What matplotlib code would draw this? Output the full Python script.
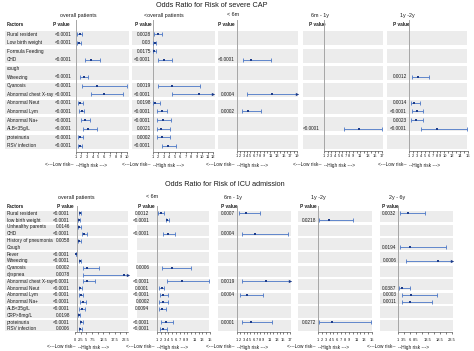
import numpy as np
import matplotlib
matplotlib.use("Agg")
import matplotlib.pyplot as plt
from matplotlib.patches import Rectangle

plt.rcParams['font.family'] = ['Liberation Sans', 'DejaVu Sans']

# ------------------------------------------------------------------
# DATA : Odds Ratio for Risk of severe CAP
# ------------------------------------------------------------------
cap_title = "Odds Ratio for Risk of severe CAP"
cap_factors = ["Rural resident", "Low birth weight", "Formula Feeding", "CHD", "cough",
               "Wheezing", "Cyanosis", "Abnormal chest X-ray", "Abnormal Neut",
               "Abnormal Lym", "Abnormal Na+", "ALB<35g/L", "proteinuria", "RSV infection"]
cap_groups = ["overall patients", "<overall patients", "< 6m", "6m - 1y", "1y -2y"]

cap_all_rows = ["Rural resident", "Low birth weight", "CHD", "Wheezing", "Cyanosis",
                "Abnormal chest X-ray", "Abnormal Neut", "Abnormal Lym", "Abnormal Na+",
                "ALB<35g/L", "proteinuria", "RSV infection"]
cap_all_or = [1.8, 1.6, 3.7, 2.4, 4.7, 6.0, 1.8, 2.1, 2.7, 3.2, 1.8, 1.7]
cap_all_lo = [1.3, 1.3, 2.7, 1.8, 2.1, 3.7, 1.4, 1.6, 1.9, 2.3, 1.4, 1.4]
cap_all_hi = [2.2, 2.0, 5.2, 3.1, 9.95, 9.3, 2.3, 2.5, 3.5, 4.7, 2.3, 2.1]
cap_all_p = ["<0.0001"] * 12

cap_sub_rows = ["Rural resident", "Low birth weight", "Formula Feeding", "CHD", "Cyanosis",
                "Abnormal chest X-ray", "Abnormal Neut", "Abnormal Lym", "Abnormal Na+",
                "ALB<35g/L", "proteinuria", "RSV infection"]
cap_sub_or = [2.05, 1.4, 1.3, 3.1, 4.5, 9.5, 1.5, 2.7, 2.85, 2.55, 2.7, 3.9]
cap_sub_lo = [1.3, 1.15, 1.05, 2.05, 2.05, 4.5, 1.05, 1.9, 1.9, 1.75, 1.9, 2.7]
cap_sub_hi = [2.7, 1.7, 1.55, 4.5, 9.6, 14.0, 2.3, 3.6, 4.3, 4.1, 4.2, 5.3]
cap_sub_p = ["0.0028", "0.03", "0.0175", "<0.0001", "0.0019", "<0.0001", "0.0198",
             "<0.0001", "<0.0001", "0.0021", "0.0002", "<0.0001"]

cap_6m_rows = ["CHD", "Abnormal chest X-ray", "Abnormal Lym"]
cap_6m_or = [5.1, 11.4, 4.4]
cap_6m_lo = [2.7, 3.9, 2.6]
cap_6m_hi = [11.1, 22.0, 8.1]
cap_6m_p = ["<0.0001", "0.0004", "0.0002"]

cap_1y_rows = ["ALB<35g/L"]
cap_1y_or = [10.7]
cap_1y_lo = [6.6]
cap_1y_hi = [17.0]
cap_1y_p = ["<0.0001"]

cap_2y_rows = ["Wheezing", "Abnormal Neut", "Abnormal Lym", "Abnormal Na+", "ALB<35g/L"]
cap_2y_or = [3.4, 2.35, 2.95, 2.7, 8.05]
cap_2y_lo = [1.7, 1.5, 1.7, 1.5, 4.0]
cap_2y_hi = [6.2, 3.8, 4.6, 4.6, 15.8]
cap_2y_p = ["0.0012", "0.0014", "<0.0001", "0.0023", "<0.0001"]

# ------------------------------------------------------------------
# DATA : Odds Ratio for Risk of ICU admission
# ------------------------------------------------------------------
icu_title = "Odds Ratio for Risk of ICU admission"
icu_factors = ["Rural resident", "low birth weight", "Unhealthy parents", "CHD",
               "History of pneumonia", "Cough", "Fever", "Wheezing", "Cyanosis", "dyspnea",
               "Abnormal chest X-ray", "Abnormal Neut", "Abnormal Lym", "Abnormal Na+",
               "ALB<35g/L", "CRP>8mg/L", "proteinuria", "RSV infection"]
icu_groups = ["overall patients", "< 6m", "6m - 1y", "1y -2y", "2y - 6y"]

icu_all_rows = ["Rural resident", "low birth weight", "Unhealthy parents", "CHD",
                "History of pneumonia", "Fever", "Wheezing", "Cyanosis", "dyspnea",
                "Abnormal chest X-ray", "Abnormal Neut", "Abnormal Lym", "Abnormal Na+",
                "ALB<35g/L", "CRP>8mg/L", "proteinuria", "RSV infection"]
icu_all_or = [2.2, 1.8, 1.9, 4.1, 1.8, 0.45, 2.2, 5.4, 21.6, 5.4, 2.2, 2.6, 3.4, 2.9, 1.6, 2.6, 2.2]
icu_all_lo = [1.8, 1.5, 1.3, 2.9, 1.3, 0.35, 1.7, 3.4, 3.4, 3.4, 1.8, 1.9, 2.2, 1.9, 1.3, 2.2, 1.6]
icu_all_hi = [2.6, 2.2, 2.5, 5.4, 2.5, 0.6, 2.6, 10.6, 30.0, 8.8, 2.9, 3.4, 4.8, 4.4, 2.0, 3.4, 2.9]
icu_all_p = ["<0.0001", "<0.0001", "0.0146", "<0.0001", "0.0058", "<0.0001", "<0.0001",
             "0.0002", "0.0078", "<0.0001", "<0.0001", "<0.0001", "<0.0001", "<0.0001",
             "0.0198", "<0.0001", "0.0006"]

icu_6m_rows = ["Rural resident", "low birth weight", "CHD", "Cyanosis", "Abnormal chest X-ray",
               "Abnormal Neut", "Abnormal Lym", "Abnormal Na+", "ALB<35g/L", "proteinuria",
               "RSV infection"]
icu_6m_or = [2.05, 3.7, 4.0, 4.9, 7.5, 2.2, 2.65, 2.5, 2.25, 3.4, 2.5]
icu_6m_lo = [1.35, 3.35, 2.5, 2.2, 3.7, 1.6, 1.8, 1.6, 1.45, 2.05, 1.8]
icu_6m_hi = [2.85, 4.05, 5.75, 9.9, 14.8, 2.9, 4.0, 3.85, 3.5, 5.1, 3.7]
icu_6m_p = ["0.0012", "<0.0001", "<0.0001", "0.0006", "<0.0001", "0.0001", "<0.0001",
            "0.0002", "0.0094", "<0.0001", "<0.0001"]

icu_1y_rows = ["Rural resident", "CHD", "Abnormal chest X-ray", "Abnormal Lym", "proteinuria"]
icu_1y_or = [3.7, 6.4, 9.7, 4.1, 5.1]
icu_1y_lo = [1.6, 2.4, 2.6, 1.9, 2.4]
icu_1y_hi = [7.9, 16.5, 20.0, 8.9, 11.5]
icu_1y_p = ["0.0007", "0.0004", "0.0019", "0.0004", "0.0001"]

icu_2y_rows = ["low birth weight", "proteinuria"]
icu_2y_or = [3.85, 4.5]
icu_2y_lo = [1.35, 1.35]
icu_2y_hi = [10.0, 14.7]
icu_2y_p = ["0.0218", "0.0272"]

icu_6y_rows = ["Rural resident", "Cough", "Wheezing", "Abnormal Neut", "Abnormal Lym", "Abnormal Na+"]
icu_6y_or = [5.0, 6.0, 17.8, 2.8, 6.5, 6.0]
icu_6y_lo = [1.8, 1.8, 4.3, 1.5, 2.8, 2.5]
icu_6y_hi = [12.3, 21.0, 26.0, 6.0, 17.4, 15.0]
icu_6y_p = ["0.0032", "0.0194", "0.0006", "0.0387", "0.0003", "0.0011"]

# tick definitions
def int_ticks(lo, hi, labelled):
    t = list(range(lo, hi + 1))
    return t, [str(v) if v in labelled else "" for v in t]

odd_after9 = set(range(1, 10))
cap_ticks = [
    int_ticks(1, 10, set(range(1, 11))),
    int_ticks(1, 12, set(range(1, 13))),
    int_ticks(1, 19, odd_after9 | {11, 13, 15, 17, 19}),
    int_ticks(1, 17, odd_after9 | {11, 13, 15, 17}),
    int_ticks(1, 16, set(range(1, 11)) | {12, 14, 16}),
]
icu_ticks = [
    ([0, 2.5, 5, 7.5, 10, 12.5, 15, 17.5, 20, 22.5],
     ["0", "2.5", "5", "7.5", "", "12.5", "", "17.5", "", "22.5"]),
    int_ticks(1, 15, odd_after9 | {11, 13, 15}),
    int_ticks(1, 17, odd_after9 | {11, 13, 15, 17}),
    int_ticks(1, 15, odd_after9 | {11, 13, 15}),
    ([1, 3.5, 6, 8.5, 11, 13.5, 16, 18.5, 21, 23.5],
     ["1", "3.5", "6", "8.5", "", "13.5", "", "18.5", "", "23.5"]),
]

# ------------------------------------------------------------------
# LAYOUT (pixel positions)
# ------------------------------------------------------------------
W, H = 474, 351
FS = 3.4
TFS = 2.9
BAND = '#ececec'
LINE = '#4a76c6'
MARK = '#1d3c8a'
VLINE = '#a5a5a5'
TXT = '#1a1a1a'

cap_layout = dict(title_x=212, title_y=5.5, group_y=15, colhead_y=25, y0=34, dy=8.6, pad=2.7,
                  risk_y=165, vtop=20, tpad=1.0,
                  panels=[dict(hx=78, phx=53, pr=72, bx0=5, bx1=129, px0=75.5, px1=127, lim=(1, 10), axy=152),
                          dict(hx=164, phx=135, pr=151, bx0=132, bx1=215, px0=152.5, px1=213, lim=(1, 12), axy=152),
                          dict(hx=233, phx=218, pr=235, bx0=218, bx1=298, px0=237, px1=297, lim=(1, 19), axy=151),
                          dict(hx=320, phx=309, pr=319.5, bx0=303, bx1=383, px0=324, px1=382, lim=(1, 17), axy=151),
                          dict(hx=407, phx=393, pr=407, bx0=387, bx1=467, px0=409, px1=468, lim=(1, 16), axy=151)])
icu_layout = dict(title_x=225, title_y=185, group_y=197, colhead_y=207, y0=213.3, dy=6.8, pad=2.2,
                  risk_y=347, vtop=206, tpad=2.6,
                  panels=[dict(hx=76, phx=57, pr=70, bx0=5, bx1=128, px0=75, px1=128.3, lim=(0, 23.5), axy=332),
                          dict(hx=152, phx=138, pr=149.5, bx0=137, bx1=209, px0=157, px1=210, lim=(1, 15), axy=332),
                          dict(hx=233, phx=221, pr=235, bx0=218, bx1=291, px0=237, px1=290, lim=(1, 17), axy=332),
                          dict(hx=318, phx=300, pr=316, bx0=298, bx1=372, px0=318, px1=372, lim=(1, 15), axy=332),
                          dict(hx=397, phx=382, pr=396.5, bx0=380, bx1=453, px0=398, px1=452, lim=(1, 23.5), axy=332)])

fig = plt.figure(figsize=(W / 100, H / 100), dpi=100)
bg = fig.add_axes([0, 0, 1, 1])
bg.set_xlim(0, W)
bg.set_ylim(H, 0)
bg.axis('off')


def draw_chart(title, factors, groups, datasets, ticksets, L):
    n = len(factors)
    ys = L['y0'] + L['dy'] * np.arange(n)
    bg.text(L['title_x'], L['title_y'], title, ha='center', va='center', fontsize=5.2, color=TXT)
    bg.text(7, L['colhead_y'], "Factors", ha='left', va='center', fontsize=FS, fontweight='bold', color=TXT)
    for f, y in zip(factors, ys):
        bg.text(7, y, f, ha='left', va='center', fontsize=FS, color=TXT)
    for g, P, (rows, ors, los, his, ps), (tk, tl) in zip(groups, L['panels'], datasets, ticksets):
        # row bands
        for k in range(0, n, 2):
            top = ys[k] - L['pad']
            bot = ys[min(k + 1, n - 1)] + L['pad']
            bg.add_patch(Rectangle((P['bx0'], top), P['bx1'] - P['bx0'], bot - top,
                                   facecolor=BAND, edgecolor='none', zorder=0))
        bg.text(P['hx'], L['group_y'], g, ha='center', va='center', fontsize=3.9, color=TXT)
        bg.text(P['phx'], L['colhead_y'], "P value", ha='left', va='center', fontsize=FS,
                fontweight='bold', color=TXT)
        idx = [factors.index(r) for r in rows]
        for i, p in zip(idx, ps):
            bg.text(P['pr'], ys[i], p, ha='right', va='center', fontsize=FS, color=TXT)
        # forest axes
        xmin, xmax = P['lim']
        ax = fig.add_axes([P['px0'] / W, 1 - P['axy'] / H, (P['px1'] - P['px0']) / W,
                           (P['axy'] - L['vtop']) / H])
        ax.patch.set_alpha(0)
        ax.set_xlim(xmin, xmax)
        ax.set_ylim((P['axy'] - L['y0']) / L['dy'], (L['vtop'] - L['y0']) / L['dy'])
        ax.axvline(1, color=VLINE, lw=0.7, zorder=1)
        for o, lo, hi, i in zip(ors, los, his, idx):
            end = min(hi, xmax)
            ax.plot([lo, end], [i, i], color=LINE, lw=0.6, solid_capstyle='butt', zorder=2)
            ax.plot([lo], [i], marker='|', ms=2.3, mew=0.6, color=LINE, zorder=2)
            if hi <= xmax:
                ax.plot([hi], [i], marker='|', ms=2.3, mew=0.6, color=LINE, zorder=2, clip_on=False)
            else:
                ax.plot([xmax], [i], marker='>', ms=2.4, mew=0, color=MARK, zorder=3, clip_on=False)
            ax.plot([o], [i], marker='s', ms=2.0, mew=0, color=MARK, zorder=3)
        for s in ['top', 'left', 'right']:
            ax.spines[s].set_visible(False)
        ax.spines['bottom'].set_linewidth(0.4)
        ax.spines['bottom'].set_color('#333333')
        ax.set_yticks([])
        ax.set_xticks(tk)
        ax.set_xticklabels(tl)
        ax.tick_params(axis='x', length=1.5, width=0.4, labelsize=TFS, pad=L['tpad'], colors=TXT)
        vx = P['px0'] + (1 - xmin) / (xmax - xmin) * (P['px1'] - P['px0'])
        bg.text(vx - 2, L['risk_y'], "<---Low risk--", ha='right', va='center', fontsize=FS, color=TXT)
        bg.text(vx + 0.5, L['risk_y'], "--High risk --->", ha='left', va='center', fontsize=FS, color=TXT)


cap_data = [(cap_all_rows, cap_all_or, cap_all_lo, cap_all_hi, cap_all_p),
            (cap_sub_rows, cap_sub_or, cap_sub_lo, cap_sub_hi, cap_sub_p),
            (cap_6m_rows, cap_6m_or, cap_6m_lo, cap_6m_hi, cap_6m_p),
            (cap_1y_rows, cap_1y_or, cap_1y_lo, cap_1y_hi, cap_1y_p),
            (cap_2y_rows, cap_2y_or, cap_2y_lo, cap_2y_hi, cap_2y_p)]
icu_data = [(icu_all_rows, icu_all_or, icu_all_lo, icu_all_hi, icu_all_p),
            (icu_6m_rows, icu_6m_or, icu_6m_lo, icu_6m_hi, icu_6m_p),
            (icu_1y_rows, icu_1y_or, icu_1y_lo, icu_1y_hi, icu_1y_p),
            (icu_2y_rows, icu_2y_or, icu_2y_lo, icu_2y_hi, icu_2y_p),
            (icu_6y_rows, icu_6y_or, icu_6y_lo, icu_6y_hi, icu_6y_p)]

draw_chart(cap_title, cap_factors, cap_groups, cap_data, cap_ticks, cap_layout)
draw_chart(icu_title, icu_factors, icu_groups, icu_data, icu_ticks, icu_layout)

fig.savefig("out.png", dpi=100)
